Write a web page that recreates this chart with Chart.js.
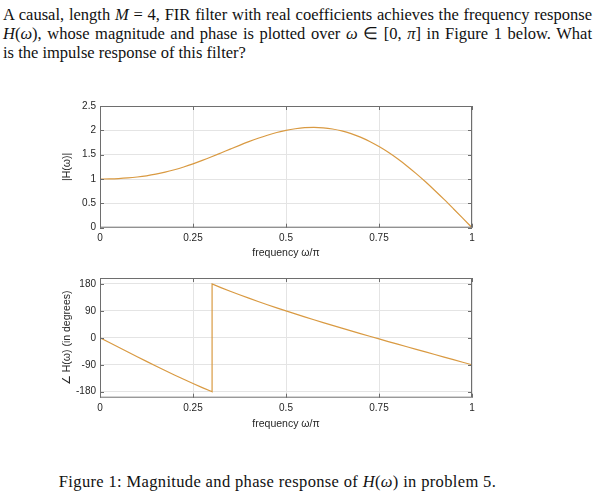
<!DOCTYPE html>
<html>
<head>
<meta charset="utf-8">
<script src="https://cdn.jsdelivr.net/npm/chart.js@4.4.0/dist/chart.umd.min.js"></script>
<style>
  body { margin: 0; background: #fff; width: 597px; height: 499px; overflow: hidden; position: relative; }
  .txt { position: absolute; font-family: "Liberation Serif", serif; font-size: 16.5px; line-height: 20px; color: #111; white-space: nowrap; }
  .just { text-align: justify; text-align-last: justify; white-space: normal; }
  canvas { position: absolute; left: 0; }
</style>
</head>
<body>
<div class="txt just" style="left:3px; top:5px; width:589px;">A causal, length <i>M</i> = 4, FIR filter with real coefficients achieves the frequency response</div>
<div class="txt just" style="left:3px; top:24px; width:589px;"><i>H</i>(<i>ω</i>), whose magnitude and phase is plotted over <i>ω</i> ∈ [0, <i>π</i>] in Figure 1 below. What</div>
<div class="txt" style="left:3px; top:43px;">is the impulse response of this filter?</div>

<canvas id="graficoMagnitud" width="597" height="180" style="top:90px"></canvas>
<canvas id="graficoFase" width="597" height="172" style="top:268px"></canvas>

<div class="txt" style="left:0; top:472px; width:555px; text-align:center; letter-spacing:0.35px;">Figure 1: Magnitude and phase response of <i>H</i>(<i>ω</i>) in problem 5.</div>

<script>
// frecuencia normalizada w/pi
var freq = [0, 0.025, 0.05, 0.075, 0.1, 0.125, 0.15, 0.175, 0.2, 0.225, 0.25, 0.275, 0.3, 0.325, 0.35, 0.375, 0.4, 0.425, 0.45, 0.475, 0.5,
            0.525, 0.55, 0.575, 0.6, 0.625, 0.65, 0.675, 0.7, 0.725, 0.75, 0.775, 0.8, 0.825, 0.85, 0.875, 0.9, 0.925, 0.95, 0.975, 1];
// |H(w)|
var magnitud = [1.0, 1.002, 1.009, 1.022, 1.041, 1.066, 1.099, 1.140, 1.190, 1.247, 1.311, 1.382, 1.457, 1.535, 1.614, 1.692, 1.767, 1.837, 1.900, 1.955, 2.0,
                2.033, 2.054, 2.060, 2.052, 2.028, 1.988, 1.932, 1.860, 1.771, 1.667, 1.549, 1.415, 1.269, 1.111, 0.943, 0.765, 0.581, 0.390, 0.196, 0];
// fase en grados (con el salto de -180 a 180)
var freqFase = [0, 0.025, 0.05, 0.075, 0.1, 0.125, 0.15, 0.175, 0.2, 0.225, 0.25, 0.275, 0.3, 0.3013, 0.3013, 0.325, 0.35, 0.375, 0.4, 0.425, 0.45, 0.475, 0.5,
                0.525, 0.55, 0.575, 0.6, 0.625, 0.65, 0.675, 0.7, 0.725, 0.75, 0.775, 0.8, 0.825, 0.85, 0.875, 0.9, 0.925, 0.95, 0.975, 1];
var fase = [0, -15.75, -31.5, -47.2, -62.9, -78.5, -94.0, -109.2, -124.0, -138.5, -152.6, -166.2, -179.3, -180, 180, 168.0, 155.8, 144.0, 132.6, 121.5, 110.7, 100.2, 90,
            80.0, 70.2, 60.5, 51.0, 41.7, 32.4, 23.3, 14.3, 5.3, -3.6, -12.4, -21.1, -29.8, -38.5, -47.1, -55.7, -64.3, -72.9, -81.5, -90];

var ticksFreq = [0, 0.25, 0.5, 0.75, 1];
var ticksMag = [0, 0.5, 1, 1.5, 2, 2.5];
var ticksFase = [-180, -90, 0, 90, 180];

var colorLinea = '#d99a42';
var colorCaja = '#6e6e6e';
var fuente = '"Liberation Sans", Arial, sans-serif';

// caja y marcas hacia dentro al estilo MATLAB
var cajaPlugin = {
    id: 'caja',
    afterDraw: function(chart) {
        var a = chart.chartArea, ctx = chart.ctx, L = 4;
        ctx.save();
        ctx.strokeStyle = colorCaja;
        ctx.lineWidth = 1;
        ctx.strokeRect(a.left + 0.5, a.top + 0.5, a.right - a.left - 1, a.bottom - a.top - 1);
        ctx.beginPath();
        chart.scales.x.ticks.forEach(function(t) {
            var px = Math.round(chart.scales.x.getPixelForValue(t.value)) + 0.5;
            ctx.moveTo(px, a.bottom); ctx.lineTo(px, a.bottom - L);
            ctx.moveTo(px, a.top); ctx.lineTo(px, a.top + L);
        });
        chart.scales.y.ticks.forEach(function(t) {
            var py = Math.round(chart.scales.y.getPixelForValue(t.value)) + 0.5;
            ctx.moveTo(a.left, py); ctx.lineTo(a.left + L, py);
            ctx.moveTo(a.right, py); ctx.lineTo(a.right - L, py);
        });
        ctx.stroke();
        ctx.restore();
    }
};

function ejes(ymin, ymax, yTicks, yTitulo, xAlto, tituloAbajo) {
    return {
        x: {
            type: 'linear', min: 0, max: 1,
            afterBuildTicks: function(s) { s.ticks = ticksFreq.map(function(v) { return { value: v }; }); },
            afterFit: function(s) { s.height = xAlto; },
            grid: { color: '#e4e4e4', drawTicks: false },
            border: { display: false },
            ticks: { padding: 5, color: '#262626', font: { family: fuente, size: 10 }, maxRotation: 0,
                     callback: function(v) { return String(v); } },
            title: { display: true, text: 'frequency ω/π', color: '#262626', font: { family: fuente, size: 10.5 },
                     padding: { top: 0, bottom: tituloAbajo } }
        },
        y: {
            type: 'linear', min: ymin, max: ymax,
            afterBuildTicks: function(s) { s.ticks = yTicks.map(function(v) { return { value: v }; }); },
            afterFit: function(s) { s.width = 100; },
            grid: { color: '#e4e4e4', drawTicks: false },
            border: { display: false },
            ticks: { padding: 4, color: '#262626', font: { family: fuente, size: 10 },
                     callback: function(v) { return String(v); } },
            title: { display: true, text: yTitulo, color: '#262626', font: { family: fuente, size: 10.5 },
                     padding: { top: 61, bottom: 0 } }
        }
    };
}

var ctx1 = document.getElementById('graficoMagnitud').getContext('2d');
var graficoMagnitud = new Chart(ctx1, {
    type: 'line',
    data: {
        datasets: [{
            data: freq.map(function(f, i) { return { x: f, y: magnitud[i] }; }),
            borderColor: colorLinea,
            borderWidth: 1.2,
            pointRadius: 0,
            cubicInterpolationMode: 'monotone'
        }]
    },
    options: {
        responsive: false,
        animation: false,
        layout: { padding: { left: 0, right: 125, top: 16, bottom: 0 } },
        plugins: { legend: { display: false }, tooltip: { enabled: false } },
        scales: ejes(0, 2.5, ticksMag, '|H(ω)|', 42.3, 11)
    },
    plugins: [cajaPlugin]
});

var ctx2 = document.getElementById('graficoFase').getContext('2d');
var graficoFase = new Chart(ctx2, {
    type: 'line',
    data: {
        datasets: [{
            data: freqFase.map(function(f, i) { return { x: f, y: fase[i] }; }),
            borderColor: colorLinea,
            borderWidth: 1.2,
            pointRadius: 0,
            tension: 0
        }]
    },
    options: {
        responsive: false,
        animation: false,
        layout: { padding: { left: 0, right: 125, top: 8.3, bottom: 0 } },
        plugins: { legend: { display: false }, tooltip: { enabled: false } },
        scales: ejes(-200, 200, ticksFase, '∠ H(ω) (in degrees)', 42.3, 10)
    },
    plugins: [cajaPlugin]
});
</script>
</body>
</html>
